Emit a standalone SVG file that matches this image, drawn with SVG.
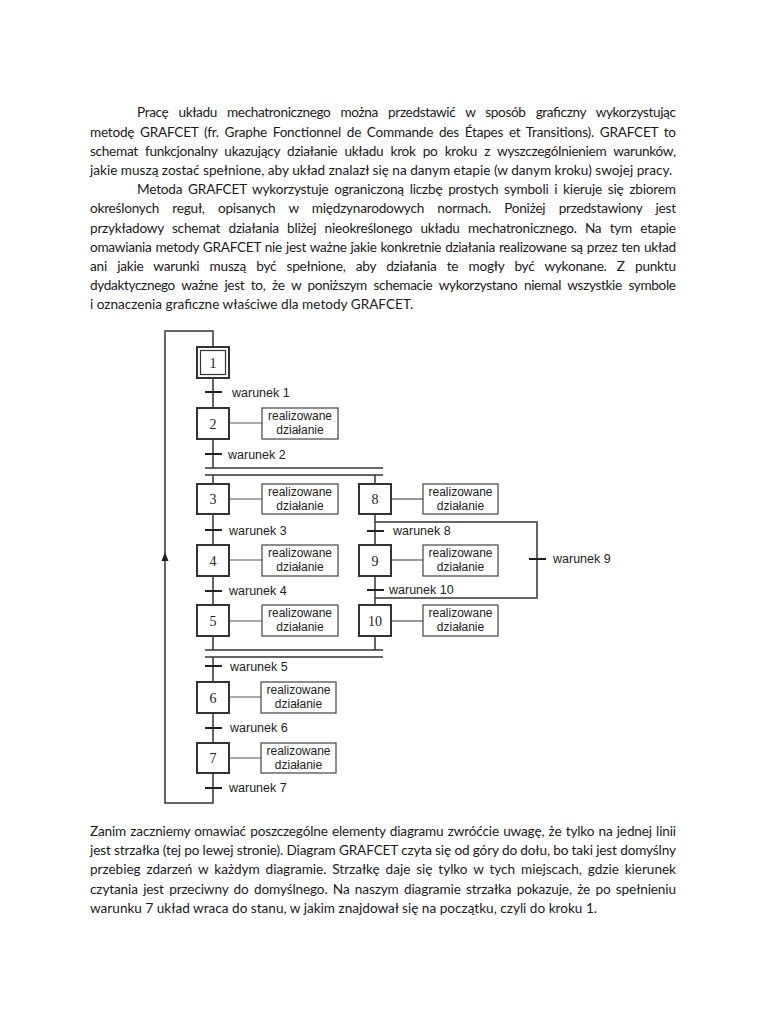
<svg xmlns="http://www.w3.org/2000/svg" width="768" height="1024" viewBox="0 0 768 1024">
<style>
.p{font-family:Lato,"Liberation Sans",sans-serif;font-size:13.6px;fill:#1a1a1a}
.w{font-family:"Liberation Sans",Arial,sans-serif;font-size:12.5px;fill:#222}
.a{font-family:"Liberation Sans",Arial,sans-serif;font-size:12px;fill:#222;text-anchor:middle}
.n{font-family:"Liberation Serif","Times New Roman",serif;font-size:14px;fill:#222;text-anchor:middle}
.st{fill:#fff;stroke:#333;stroke-width:2}
.ab{fill:#fff;stroke:#444;stroke-width:1.2}
.ln{stroke:#333;stroke-width:1.5;fill:none}
.tk{stroke:#222;stroke-width:2}
.cn{stroke:#555;stroke-width:1.2}
</style>
<rect width="768" height="1024" fill="#fff"/>
<g id="text-top">
<text class="p" x="137" y="117" word-spacing="7" textLength="539" lengthAdjust="spacing">Pracę układu mechatronicznego można przedstawić w sposób graficzny wykorzystując</text>
<text class="p" x="90" y="136.5" word-spacing="2.5" textLength="586" lengthAdjust="spacing">metodę GRAFCET (fr. Graphe Fonctionnel de Commande des Étapes et Transitions). GRAFCET to</text>
<text class="p" x="90" y="155.7" word-spacing="4" textLength="586" lengthAdjust="spacing">schemat funkcjonalny ukazujący działanie układu krok po kroku z wyszczególnieniem warunków,</text>
<text class="p" x="90" y="174.9">jakie muszą zostać spełnione, aby układ znalazł się na danym etapie (w danym kroku) swojej pracy.</text>
<text class="p" x="137" y="194.1" word-spacing="2.5" textLength="539" lengthAdjust="spacing">Metoda GRAFCET wykorzystuje ograniczoną liczbę prostych symboli i kieruje się zbiorem</text>
<text class="p" x="90" y="213.3" word-spacing="10" textLength="586" lengthAdjust="spacing">określonych reguł, opisanych w międzynarodowych normach. Poniżej przedstawiony jest</text>
<text class="p" x="90" y="232.5" word-spacing="5" textLength="586" lengthAdjust="spacing">przykładowy schemat działania bliżej nieokreślonego układu mechatronicznego. Na tym etapie</text>
<text class="p" x="90" y="251.7" word-spacing="0.8" textLength="586" lengthAdjust="spacing">omawiania metody GRAFCET nie jest ważne jakie konkretnie działania realizowane są przez ten układ</text>
<text class="p" x="90" y="270.9" word-spacing="7" textLength="586" lengthAdjust="spacing">ani jakie warunki muszą być spełnione, aby działania te mogły być wykonane. Z punktu</text>
<text class="p" x="90" y="290.1" word-spacing="3.5" textLength="586" lengthAdjust="spacing">dydaktycznego ważne jest to, że w poniższym schemacie wykorzystano niemal wszystkie symbole</text>
<text class="p" x="90" y="309.3">i oznaczenia graficzne właściwe dla metody GRAFCET.</text>
</g>
<g id="connectors">
<polyline class="ln" points="213,347 213,331 165,331 165,803 213,803 213,773"/>
<path d="M165,552 L161.5,561 L168.5,561 Z" fill="#222"/>
<line class="ln" x1="213" y1="378" x2="213" y2="408"/>
<line class="ln" x1="213" y1="439" x2="213" y2="468"/>
<line class="ln" x1="205" y1="468" x2="383" y2="468"/>
<line class="ln" x1="205" y1="475" x2="383" y2="475"/>
<line class="ln" x1="213" y1="475" x2="213" y2="484"/>
<line class="ln" x1="213" y1="514" x2="213" y2="545"/>
<line class="ln" x1="213" y1="576" x2="213" y2="605"/>
<line class="ln" x1="213" y1="636" x2="213" y2="650"/>
<line class="ln" x1="375" y1="475" x2="375" y2="484"/>
<line class="ln" x1="375" y1="514" x2="375" y2="545"/>
<line class="ln" x1="375" y1="576" x2="375" y2="605"/>
<line class="ln" x1="375" y1="636" x2="375" y2="650"/>
<polyline class="ln" points="375,522 537,522 537,598 375,598" stroke-width="1.3"/>
<line class="ln" x1="205" y1="650" x2="383" y2="650"/>
<line class="ln" x1="205" y1="657" x2="383" y2="657"/>
<line class="ln" x1="213" y1="657" x2="213" y2="682"/>
<line class="ln" x1="213" y1="713" x2="213" y2="743"/>
<line class="tk" x1="205" y1="392" x2="222" y2="392"/>
<line class="tk" x1="205" y1="454" x2="222" y2="454"/>
<line class="tk" x1="205" y1="530" x2="222" y2="530"/>
<line class="tk" x1="205" y1="591" x2="222" y2="591"/>
<line class="tk" x1="205" y1="666" x2="222" y2="666"/>
<line class="tk" x1="205" y1="728" x2="222" y2="728"/>
<line class="tk" x1="205" y1="788" x2="222" y2="788"/>
<line class="tk" x1="367" y1="531" x2="384" y2="531"/>
<line class="tk" x1="367" y1="590" x2="384" y2="590"/>
<line class="tk" x1="529" y1="559" x2="546" y2="559"/>
<line class="cn" x1="229" y1="423" x2="262" y2="423"/>
<line class="cn" x1="229" y1="499" x2="262" y2="499"/>
<line class="cn" x1="229" y1="560" x2="262" y2="560"/>
<line class="cn" x1="229" y1="621" x2="262" y2="621"/>
<line class="cn" x1="229" y1="697" x2="262" y2="697"/>
<line class="cn" x1="229" y1="758" x2="262" y2="758"/>
<line class="cn" x1="391" y1="499" x2="423" y2="499"/>
<line class="cn" x1="391" y1="560" x2="423" y2="560"/>
<line class="cn" x1="391" y1="621" x2="423" y2="621"/>
<text class="w" x="232" y="397">warunek 1</text>
<text class="w" x="228" y="459">warunek 2</text>
<text class="w" x="229" y="535">warunek 3</text>
<text class="w" x="229" y="595">warunek 4</text>
<text class="w" x="230" y="671">warunek 5</text>
<text class="w" x="230" y="732">warunek 6</text>
<text class="w" x="229" y="792">warunek 7</text>
<text class="w" x="393" y="535">warunek 8</text>
<text class="w" x="553" y="563">warunek 9</text>
<text class="w" x="389" y="594">warunek 10</text>
</g>
<g id="step1"><rect class="st" x="197" y="347" width="32" height="31"/><rect x="200.5" y="350.5" width="25" height="24" fill="none" stroke="#333" stroke-width="1.2"/><text class="n" x="213" y="367.5">1</text></g>
<g id="step2"><rect class="st" x="197" y="408" width="32" height="31"/><text class="n" x="213" y="428.5">2</text></g>
<g id="action2"><rect class="ab" x="262" y="408" width="76" height="31"/><text class="a" x="300" y="420">realizowane</text><text class="a" x="300" y="434">działanie</text></g>
<g id="step3"><rect class="st" x="197" y="484" width="32" height="30"/><text class="n" x="213" y="504">3</text></g>
<g id="action3"><rect class="ab" x="262" y="484" width="76" height="30"/><text class="a" x="300" y="496">realizowane</text><text class="a" x="300" y="510">działanie</text></g>
<g id="step4"><rect class="st" x="197" y="545" width="32" height="31"/><text class="n" x="213" y="565.5">4</text></g>
<g id="action4"><rect class="ab" x="262" y="545" width="76" height="31"/><text class="a" x="300" y="557">realizowane</text><text class="a" x="300" y="571">działanie</text></g>
<g id="step5"><rect class="st" x="197" y="605" width="32" height="31"/><text class="n" x="213" y="625.5">5</text></g>
<g id="action5"><rect class="ab" x="262" y="605" width="76" height="31"/><text class="a" x="300" y="617">realizowane</text><text class="a" x="300" y="631">działanie</text></g>
<g id="step8"><rect class="st" x="359" y="484" width="32" height="30"/><text class="n" x="375" y="504">8</text></g>
<g id="action8"><rect class="ab" x="423" y="484" width="75" height="30"/><text class="a" x="460.5" y="496">realizowane</text><text class="a" x="460.5" y="510">działanie</text></g>
<g id="step9"><rect class="st" x="359" y="545" width="32" height="31"/><text class="n" x="375" y="565.5">9</text></g>
<g id="action9"><rect class="ab" x="423" y="545" width="75" height="31"/><text class="a" x="460.5" y="557">realizowane</text><text class="a" x="460.5" y="571">działanie</text></g>
<g id="step10"><rect class="st" x="359" y="605" width="32" height="31"/><text class="n" x="375" y="625.5">10</text></g>
<g id="action10"><rect class="ab" x="423" y="605" width="75" height="31"/><text class="a" x="460.5" y="617">realizowane</text><text class="a" x="460.5" y="631">działanie</text></g>
<g id="step6"><rect class="st" x="197" y="682" width="32" height="31"/><text class="n" x="213" y="702.5">6</text></g>
<g id="action6"><rect class="ab" x="261" y="682" width="75" height="31"/><text class="a" x="298.5" y="694">realizowane</text><text class="a" x="298.5" y="708">działanie</text></g>
<g id="step7"><rect class="st" x="197" y="743" width="32" height="30"/><text class="n" x="213" y="763">7</text></g>
<g id="action7"><rect class="ab" x="261" y="743" width="75" height="30"/><text class="a" x="298.5" y="755">realizowane</text><text class="a" x="298.5" y="769">działanie</text></g>
<g id="text-bottom">
<text class="p" x="90" y="836" word-spacing="1" textLength="586" lengthAdjust="spacing">Zanim zaczniemy omawiać poszczególne elementy  diagramu zwróćcie uwagę, że tylko na jednej linii</text>
<text class="p" x="90" y="855.2" textLength="586" lengthAdjust="spacing">jest strzałka (tej po lewej stronie). Diagram GRAFCET czyta się od góry do dołu, bo taki jest domyślny</text>
<text class="p" x="90" y="874.4" word-spacing="2.5" textLength="586" lengthAdjust="spacing">przebieg zdarzeń w każdym diagramie. Strzałkę daje się tylko w tych miejscach, gdzie kierunek</text>
<text class="p" x="90" y="893.6" word-spacing="2" textLength="586" lengthAdjust="spacing">czytania jest przeciwny do domyślnego. Na naszym diagramie strzałka pokazuje, że po spełnieniu</text>
<text class="p" x="90" y="912.8">warunku 7 układ wraca do stanu, w jakim znajdował się na początku, czyli do kroku 1.</text>
</g>
</svg>
